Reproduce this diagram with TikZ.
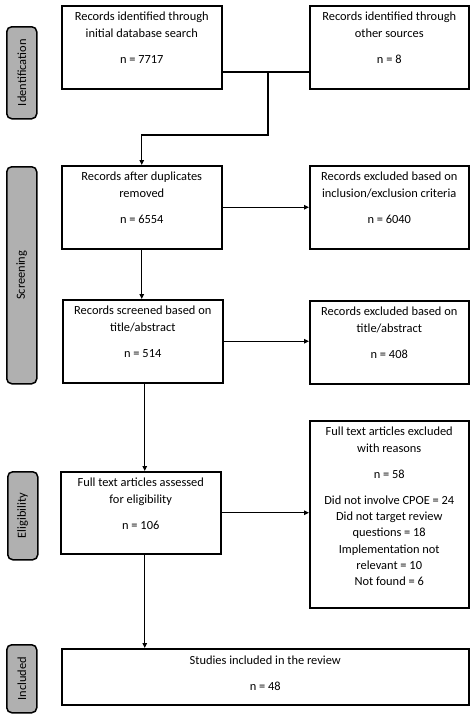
\documentclass[tikz,border=0pt]{standalone}
\usepackage{fontspec}
\setmainfont{Carlito}
\definecolor{stagegray}{RGB}{176,176,176}
\usetikzlibrary{arrows.meta,positioning,calc}

\tikzset{
  box/.style={rectangle, draw, line width=1.5pt, anchor=north west, inner sep=0pt},
  txt/.style={align=center, inner sep=0pt, anchor=north,
              font=\fontsize{12.4}{16.3}\selectfont},
  stage/.style={rectangle, rounded corners=5pt, draw, line width=1.5pt, fill=stagegray,
                anchor=north west, minimum width=30pt, inner sep=0pt},
  stagetxt/.style={rotate=90, font=\fontsize{12.4}{14}\selectfont},
  link/.style={line width=1.3pt},
  arr/.style={link, -{Triangle[length=5pt,width=4.5pt]}}
}

\begin{document}
\begin{tikzpicture}[x=1pt,y=1pt]
\useasboundingbox (0,0) rectangle (474,-718);

% stage bars
\node[stage, minimum height=92pt] (sid) at (6,-26) {};
\node[stagetxt] at (sid.center) {Identification};
\node[stage, minimum height=217pt] (sscr) at (6,-166) {};
\node[stagetxt] at (sscr.center) {Screening};
\node[stage, minimum height=88pt] (selig) at (7,-471) {};
\node[stagetxt] at (selig.center) {Eligibility};
\node[stage, minimum height=68pt] (sincl) at (6,-644) {};
\node[stagetxt] at (sincl.center) {Included};

% boxes
\node[box, minimum width=160pt, minimum height=83pt] (db) at (61,-5) {};
\node[txt, below=7pt of db.north] {Records identified through\\initial database search\\[9.7pt]n = 7717};
\node[box, minimum width=159pt, minimum height=83pt] (other) at (309,-5) {};
\node[txt, below=7pt of other.north] {Records identified through\\other sources\\[9.7pt]n = 8};

\node[box, minimum width=160pt, minimum height=83pt] (dup) at (61,-165) {};
\node[txt, below=7pt of dup.north] {Records after duplicates\\removed\\[9.7pt]n = 6554};
\node[box, minimum width=159pt, minimum height=83pt] (exinc) at (309,-165) {};
\node[txt, below=7pt of exinc.north] {Records excluded based on\\inclusion/exclusion criteria\\[9.7pt]n = 6040};

\node[box, minimum width=160pt, minimum height=83pt] (scr) at (62,-299) {};
\node[txt, below=7pt of scr.north] {Records screened based on\\title/abstract\\[9.7pt]n = 514};
\node[box, minimum width=159pt, minimum height=83pt] (exta) at (309,-300) {};
\node[txt, below=7pt of exta.north] {Records excluded based on\\title/abstract\\[9.7pt]n = 408};

\node[box, minimum width=160pt, minimum height=82pt] (full) at (60,-471) {};
\node[txt, below=7pt of full.north] {Full text articles assessed\\for eligibility\\[9.7pt]n = 106};
\node[box, minimum width=159pt, minimum height=187pt] (exfull) at (309,-420) {};
\node[txt, below=7pt of exfull.north] {Full text articles excluded\\with reasons\\[9.7pt]n = 58\\[9.7pt]Did not involve CPOE = 24\\Did not target review\\questions = 18\\Implementation not\\relevant = 10\\Not found = 6};

\node[box, minimum width=407pt, minimum height=56pt] (incl) at (61,-648) {};
\node[txt, below=8pt of incl.north] {Studies included in the review\\[9.7pt]n = 48};

% connectors
\coordinate (join) at (268,-72);
\coordinate (turn) at (268,-135);
\draw[link] (db.east |- join) -- (other.west |- join);
\draw[arr] (join) -- (turn) -| (dup.north);
\draw[arr] (dup.east) -- (exinc.west |- dup.east);
\draw[arr] (dup.south) -- (dup.south |- scr.north);
\draw[arr] (scr.east) -- (exta.west |- scr.east);
\coordinate (scrout) at ($(scr.south)+(2,0)$);
\draw[arr] (scrout) -- (scrout |- full.north);
\draw[arr] (full.east) -- (exfull.west |- full.east);
\coordinate (fullout) at ($(full.south)+(4,0)$);
\draw[arr] (fullout) -- (fullout |- incl.north);
\end{tikzpicture}
\end{document}
